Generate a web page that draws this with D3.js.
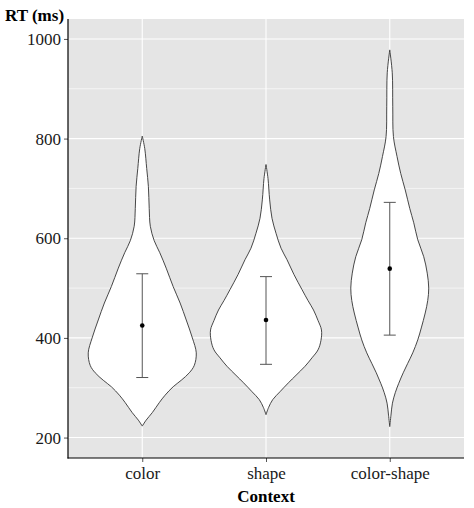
<!DOCTYPE html>
<html>
<head>
<meta charset="utf-8">
<script src="https://cdn.jsdelivr.net/npm/d3@7"></script>
<style>
  body { margin: 0; background: #fff; }
  text { font-family: "Liberation Serif", "DejaVu Serif", serif; }
</style>
</head>
<body>
<svg width="474" height="508"></svg>
<script>
// --- Data ---
const contexts = ["color", "shape", "color-shape"];

// violin outlines: RT value and relative half-width (1 = widest allowed)
const colorRT    = [805, 780, 740, 704, 660, 624, 595, 571, 540, 503, 470, 436, 400, 370, 345, 330, 315, 302, 285, 270, 250, 235, 223];
const colorDens  = [0, 0.045, 0.08, 0.11, 0.125, 0.145, 0.215, 0.315, 0.43, 0.555, 0.68, 0.79, 0.9, 0.97, 0.935, 0.845, 0.7, 0.555, 0.41, 0.305, 0.18, 0.07, 0];
const shapeRT    = [748, 720, 677, 640, 610, 580, 557, 527, 497, 475, 456, 435, 416, 395, 376, 360, 343, 325, 310, 292, 276, 260, 246];
const shapeDens  = [0, 0.036, 0.066, 0.108, 0.18, 0.27, 0.377, 0.503, 0.646, 0.754, 0.853, 0.934, 0.996, 0.987, 0.934, 0.826, 0.7, 0.539, 0.404, 0.251, 0.12, 0.045, 0];
const csRT       = [978, 932, 865, 804, 764, 730, 697, 660, 631, 597, 563, 530, 500, 475, 450, 420, 396, 370, 349, 330, 309, 290, 269, 245, 222];
const csDens     = [0, 0.045, 0.054, 0.066, 0.131, 0.197, 0.278, 0.359, 0.431, 0.503, 0.61, 0.673, 0.7, 0.682, 0.637, 0.566, 0.503, 0.413, 0.323, 0.242, 0.162, 0.099, 0.048, 0.022, 0];

const means = [425, 436, 539];
const lower = [320.5, 347, 405.6];
const upper = [528.7, 523, 672];

const majorTicks = [200, 400, 600, 800, 1000];
const minorTicks = [300, 500, 700, 900];

// --- Setup ---
const svg = d3.select("svg");
const padL = 68, padR = 464, padT = 19, padB = 458;

const x = d3.scalePoint().domain(contexts).range([padL, padR]).padding(0.6);
const y = d3.scaleLinear().domain([159, 1040]).range([padB, padT]);
const w = d3.scaleLinear().domain([0, 1]).range([0, x.step() * 0.45]);

// --- Panel ---
svg.append("rect")
    .attr("x", padL).attr("y", padT)
    .attr("width", padR - padL).attr("height", padB - padT)
    .attr("fill", "#e5e5e5");

svg.append("g").selectAll("line")
    .data(minorTicks)
    .enter().append("line")
    .attr("x1", padL).attr("x2", padR)
    .attr("y1", d => y(d)).attr("y2", d => y(d))
    .attr("stroke", "#fff").attr("stroke-width", 0.6);

svg.append("g").selectAll("line")
    .data(majorTicks)
    .enter().append("line")
    .attr("x1", padL).attr("x2", padR)
    .attr("y1", d => y(d)).attr("y2", d => y(d))
    .attr("stroke", "#fff").attr("stroke-width", 1.1);

svg.append("g").selectAll("line")
    .data(contexts)
    .enter().append("line")
    .attr("x1", d => x(d)).attr("x2", d => x(d))
    .attr("y1", padT).attr("y2", padB)
    .attr("stroke", "#fff").attr("stroke-width", 1.1);

// --- Violins ---
const violins = [
    { ctx: "color", rt: colorRT, dens: colorDens },
    { ctx: "shape", rt: shapeRT, dens: shapeDens },
    { ctx: "color-shape", rt: csRT, dens: csDens }
];

violins.forEach(v => {
    const cx = x(v.ctx);
    const pts = v.rt.map((r, i) => [r, v.dens[i]]);
    const area = d3.area()
        .y(d => y(d[0]))
        .x0(d => cx - w(d[1]))
        .x1(d => cx + w(d[1]))
        .curve(d3.curveCatmullRom.alpha(0.5));
    svg.append("path")
        .attr("d", area(pts))
        .attr("fill", "#fff")
        .attr("stroke", "#333")
        .attr("stroke-width", 0.9);
});

// --- Error bars + means ---
const eb = svg.append("g");
contexts.forEach((c, i) => {
    const cx = x(c);
    eb.append("line")
        .attr("x1", cx).attr("x2", cx)
        .attr("y1", y(lower[i])).attr("y2", y(upper[i]))
        .attr("stroke", "#555").attr("stroke-width", 1);
    [lower[i], upper[i]].forEach(v => {
        eb.append("line")
            .attr("x1", cx - 6).attr("x2", cx + 6)
            .attr("y1", y(v)).attr("y2", y(v))
            .attr("stroke", "#555").attr("stroke-width", 1);
    });
    eb.append("circle")
        .attr("cx", cx).attr("cy", y(means[i]))
        .attr("r", 2.3).attr("fill", "#000");
});

// --- Axes ---
const yAxis = svg.append("g")
    .attr("transform", `translate(${padL},0)`)
    .call(d3.axisLeft(y).tickValues(majorTicks).tickFormat(d3.format("d")).tickSize(4).tickPadding(3));
yAxis.select(".domain").remove();
yAxis.selectAll(".tick line").attr("stroke", "#555");
yAxis.selectAll(".tick text")
    .attr("fill", "#1a1a1a")
    .attr("font-size", "17px")
    .attr("font-family", "Liberation Serif, serif");

const xAxis = svg.append("g")
    .attr("transform", `translate(0,${padB})`)
    .call(d3.axisBottom(x).tickSize(4).tickPadding(5));
xAxis.select(".domain").remove();
xAxis.selectAll(".tick line").attr("stroke", "#555");
xAxis.selectAll(".tick text")
    .attr("fill", "#1a1a1a")
    .attr("font-size", "17px")
    .attr("font-family", "Liberation Serif, serif");

// axis lines
svg.append("line")
    .attr("x1", padL).attr("x2", padL)
    .attr("y1", padT).attr("y2", padB + 0.5)
    .attr("stroke", "#000").attr("stroke-width", 1.2);
svg.append("line")
    .attr("x1", padL - 0.5).attr("x2", padR)
    .attr("y1", padB).attr("y2", padB)
    .attr("stroke", "#000").attr("stroke-width", 1.2);

// --- Titles ---
svg.append("text")
    .attr("x", 5).attr("y", 21)
    .attr("font-size", "17px").attr("font-weight", "bold")
    .text("RT (ms)");

svg.append("text")
    .attr("x", (padL + padR) / 2).attr("y", 502)
    .attr("text-anchor", "middle")
    .attr("font-size", "17px").attr("font-weight", "bold")
    .text("Context");
</script>
</body>
</html>
